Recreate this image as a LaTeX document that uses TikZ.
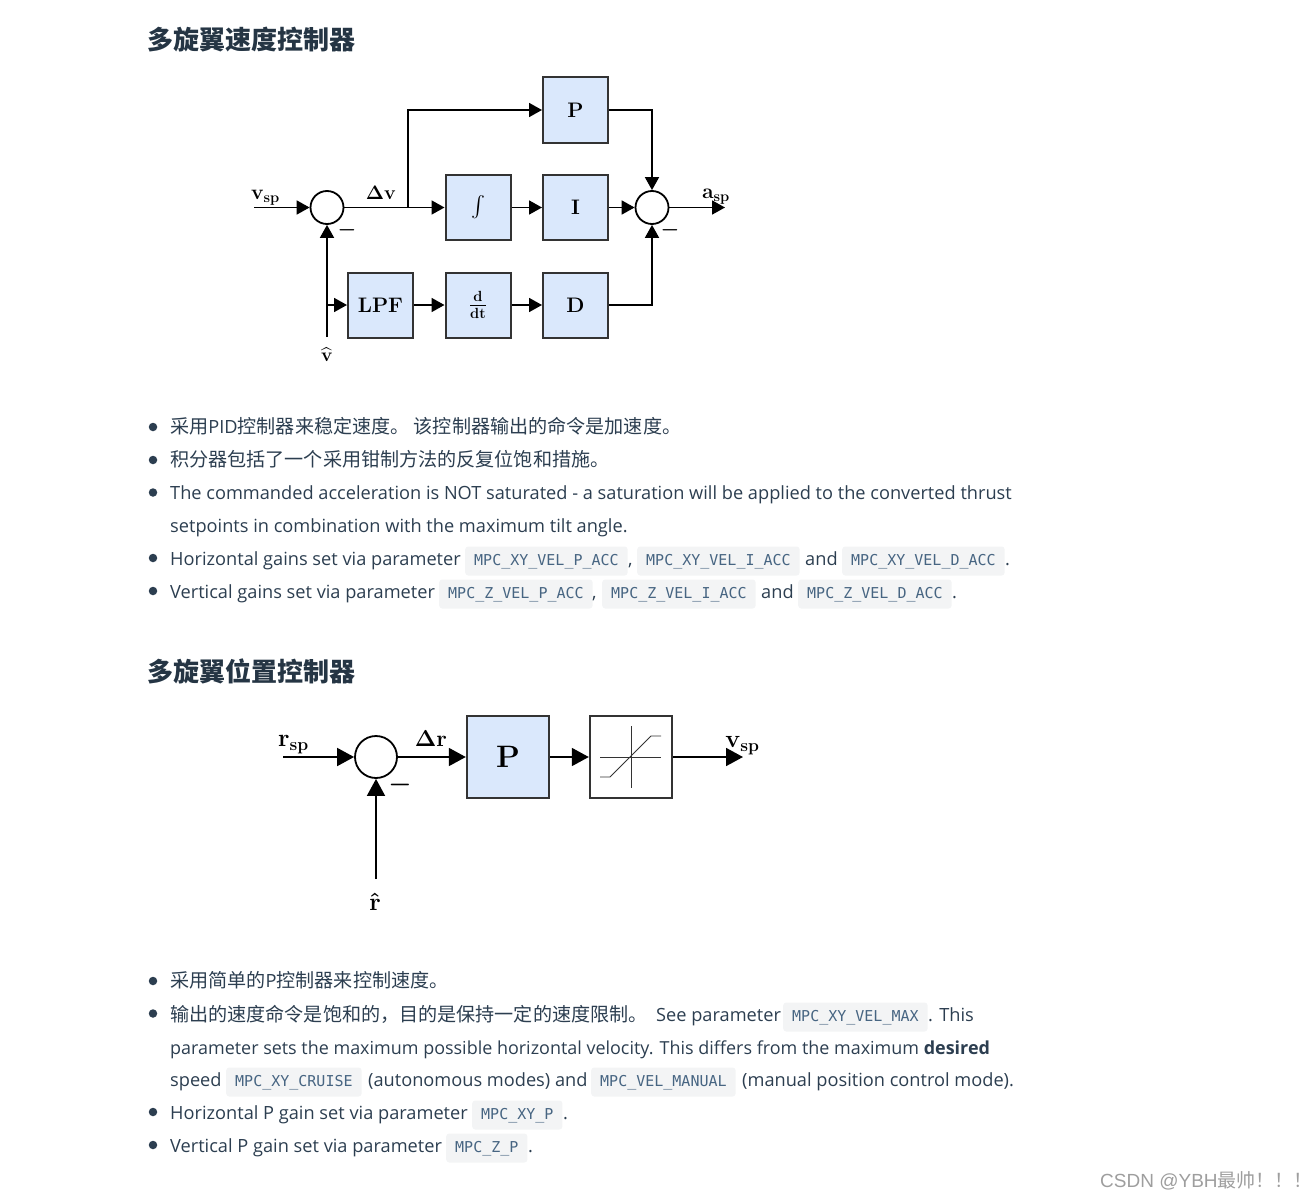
\documentclass[tikz,border=0pt]{standalone}
\usepackage{fix-cm}
\usepackage{amsmath,amssymb}
\usepackage[no-math]{fontspec}
\setmainfont{Open Sans}
\setmonofont{DejaVu Sans Mono}
\newfontfamily\cjk{Noto Sans CJK SC}
\newfontfamily\wmfont{Liberation Sans}
\newcommand{\zh}[1]{{\fontsize{19.1}{19.1}\selectfont\cjk #1}}
\usepackage{xcolor}
\definecolor{Col1}{RGB}{44,62,80}
\definecolor{Col2}{RGB}{218,232,252}
\definecolor{Col3}{RGB}{51,51,51}
\definecolor{Col4}{RGB}{243,244,245}
\definecolor{Col5}{RGB}{71,101,130}
\usetikzlibrary{arrows.meta}
\tikzstyle{Box}=[rectangle,draw=Col3,fill=Col2,line width=2pt,inner sep=0pt,
minimum size=65pt,font=\fontsize{21}{21}\selectfont\boldmath]
\tikzstyle{BoxL}=[Box,minimum size=82pt,line width=2.4pt,font=\fontsize{31}{31}\selectfont\boldmath]
\tikzstyle{Sum}=[circle,draw=black,fill=white,line width=1.8pt,inner sep=0pt]
\tikzstyle{Edge}=[draw=black,line width=1.8pt]
\tikzstyle{Arrow}=[Edge,-{Triangle[length=13pt,width=14pt]}]
\tikzstyle{ArrowL}=[Edge,-{Triangle[length=17pt,width=18pt]}]
\tikzstyle{Lab}=[inner sep=0pt,font=\fontsize{21}{21}\selectfont\boldmath]
\tikzstyle{LabL}=[inner sep=0pt,font=\fontsize{25}{25}\selectfont\boldmath]
\tikzstyle{Head}=[anchor=base west,inner sep=0pt,text=Col1!85!black,font=\fontsize{26}{26}\selectfont\cjk\bfseries]
\tikzstyle{Txt}=[anchor=base west,inner sep=0pt,text=Col1,font=\fontsize{18.2}{18.2}\selectfont]
\tikzstyle{Chip}=[anchor=base west,fill=Col4,rounded corners=3pt,text=Col5,inner xsep=9pt,
inner ysep=0pt,text height=18.5pt,text depth=10.5pt,font=\fontsize{15}{15}\selectfont\ttfamily]
\tikzstyle{Dot}=[circle,fill=Col1,inner sep=0pt,minimum size=8.5pt]
\begin{document}
\begin{tikzpicture}[x=1pt,y=-1pt]
    \useasboundingbox(0,0)rectangle(1315,1199);
    \node[Head](H1)at(147,50){多旋翼速度控制器};
    \node[Head](H2)at(147,681){多旋翼位置控制器};
    % velocity controller
    \node[Box](P)at(575.5,110){$\mathbf{P}$};
    \node[Box](I)at(575.5,207.5){$\mathbf{I}$};
    \node[Box](D)at(575.5,305){$\mathbf{D}$};
    \node[Box](Int)at(478,207.5){$\int$};
    \node[Box](Der)at(478,305){$\frac{\mathbf{d}}{\mathbf{dt}}$};
    \node[Box](LPF)at(380.5,305){$\mathbf{LPF}$};
    \node[Sum,minimum size=33pt](S1)at(327,207.5){};
    \node[Sum,minimum size=33pt](S2)at(652,207.5){};
    \coordinate(In1)at(254,207.5);
    \coordinate(Out1)at(725,207.5);
    \coordinate(Fb1)at(327,337);
    \coordinate(J1)at(408,207.5);
    \coordinate(J2)at(327,305);
    \draw[Arrow](In1)--(S1);
    \draw[Arrow](S1)--(Int);
    \draw[Arrow](J1)|-(P);
    \draw[Arrow](Int)--(I);
    \draw[Arrow](I)--(S2);
    \draw[Arrow](P)-|(S2);
    \draw[Arrow](D)-|(S2);
    \draw[Arrow](S2)--(Out1);
    \draw[Arrow](Fb1)--(S1);
    \draw[Arrow](J2)--(LPF);
    \draw[Arrow](LPF)--(Der);
    \draw[Arrow](Der)--(D);
    \node[Lab](Lvsp)at(265.5,198){$\mathbf{v}_{\mathbf{sp}}$};
    \node[Lab,font=\fontsize{19.5}{19.5}\selectfont\boldmath](Ldv)at(381,193){$\Delta\mathbf{v}$};
    \node[Lab](Lasp)at(716,197){$\mathbf{a}_{\mathbf{sp}}$};
    \node[Lab,font=\fontsize{19}{19}\selectfont\boldmath](Lvh)at(327,355){$\widehat{\mathbf{v}}$};
    \node[Lab](M1)at(347,230){$-$};
    \node[Lab](M2)at(670,230){$-$};
    % position controller
    \node[BoxL](P2)at(508,757){$\mathbf{P}$};
    \node[BoxL,fill=white](Sat)at(631,757){};
    \node[Sum,minimum size=42pt](S3)at(376,757){};
    \coordinate(In2)at(283,757);
    \coordinate(Out2)at(743,757);
    \coordinate(Fb2)at(376,879);
    \draw[ArrowL](In2)--(S3);
    \draw[ArrowL](S3)--(P2);
    \draw[ArrowL](P2)--(Sat);
    \draw[ArrowL](Sat)--(Out2);
    \draw[ArrowL](Fb2)--(S3);
    \draw[line width=1pt,draw=Col3](600,757)--(661,757);
    \draw[line width=1pt,draw=Col3](631,726)--(631,788);
    \draw[line width=.8pt,draw=Col3](600,777)--(610,777)--(651,736)--(661,736);
    \node[LabL](Lrsp)at(293.5,745){$\mathbf{r}_{\mathbf{sp}}$};
    \node[LabL,font=\fontsize{23}{23}\selectfont\boldmath](Ldr)at(431,739){$\Delta\mathbf{r}$};
    \node[LabL](Lvsp2)at(742.5,746){$\mathbf{v}_{\mathbf{sp}}$};
    \node[LabL](Lrh)at(375,902){$\hat{\mathbf{r}}$};
    \node[LabL,font=\fontsize{26}{26}\selectfont\boldmath](M3)at(400,785){$-$};
    % first list
    \foreach \i/\y in {a/427,b/460,c/492.5,d/558,e/591,f/981,g/1013.5,h/1112,i/1145}{
        \node[Dot](Dot\i)at(153,\y){};
    }
    \node[Txt](T1)at(170,433.5){\zh{采用}PID\zh{控制器来稳定速度。 该控制器输出的命令是加速度。}};
    \node[Txt](T2)at(170,466.5){\zh{积分器包括了一个采用钳制方法的反复位饱和措施。}};
    \node[Txt](T3)at(170,499.5){The commanded acceleration is NOT saturated - a saturation will be applied to the converted thrust};
    \node[Txt](T4)at(170,532){setpoints in combination with the maximum tilt angle.};
    \node[Txt](T5)at(170,565){Horizontal gains set via parameter};
    \node[Chip](C1)at(465,565){MPC\_XY\_VEL\_P\_ACC};
    \node[Txt](T6)at(628,565){,};
    \node[Chip](C2)at(637,565){MPC\_XY\_VEL\_I\_ACC};
    \node[Txt](T7)at(805,565){and};
    \node[Chip](C3)at(842,565){MPC\_XY\_VEL\_D\_ACC};
    \node[Txt](T8)at(1005,565){.};
    \node[Txt](T9)at(170,598){Vertical gains set via parameter};
    \node[Chip](C4)at(439,598){MPC\_Z\_VEL\_P\_ACC};
    \node[Txt](T10)at(592,598){,};
    \node[Chip](C5)at(602,598){MPC\_Z\_VEL\_I\_ACC};
    \node[Txt](T11)at(761,598){and};
    \node[Chip](C6)at(798,598){MPC\_Z\_VEL\_D\_ACC};
    \node[Txt](T12)at(952,598){.};
    % second list
    \node[Txt](T13)at(170,987.5){\zh{采用简单的}P\zh{控制器来控制速度。}};
    \node[Txt](T14)at(170,1021){\zh{输出的速度命令是饱和的，目的是保持一定的速度限制。}};
    \node[Txt](T15)at(656,1021){See parameter};
    \node[Chip](C7)at(783,1021){MPC\_XY\_VEL\_MAX};
    \node[Txt](T16)at(928,1021){. This};
    \node[Txt,font=\fontsize{17.95}{17.95}\selectfont](T17)at(170,1054){parameter sets the maximum possible horizontal velocity. This differs from the maximum \textbf{desired}};
    \node[Txt](T18)at(170,1086){speed};
    \node[Chip](C8)at(226,1086){MPC\_XY\_CRUISE};
    \node[Txt](T19)at(368,1086){(autonomous modes) and};
    \node[Chip](C9)at(591,1086){MPC\_VEL\_MANUAL};
    \node[Txt](T20)at(742,1086){(manual position control mode).};
    \node[Txt](T21)at(170,1119){Horizontal P gain set via parameter};
    \node[Chip](C10)at(472,1119){MPC\_XY\_P};
    \node[Txt](T22)at(563,1119){.};
    \node[Txt](T23)at(170,1152){Vertical P gain set via parameter};
    \node[Chip](C11)at(446,1152){MPC\_Z\_P};
    \node[Txt](T24)at(528,1152){.};
    \node[anchor=base west,inner sep=0pt,text=black!38,font=\fontsize{19}{19}\selectfont\wmfont](W)at(1100,1187){CSDN @YBH{\cjk 最帅！！！}};
\end{tikzpicture}
\end{document}
